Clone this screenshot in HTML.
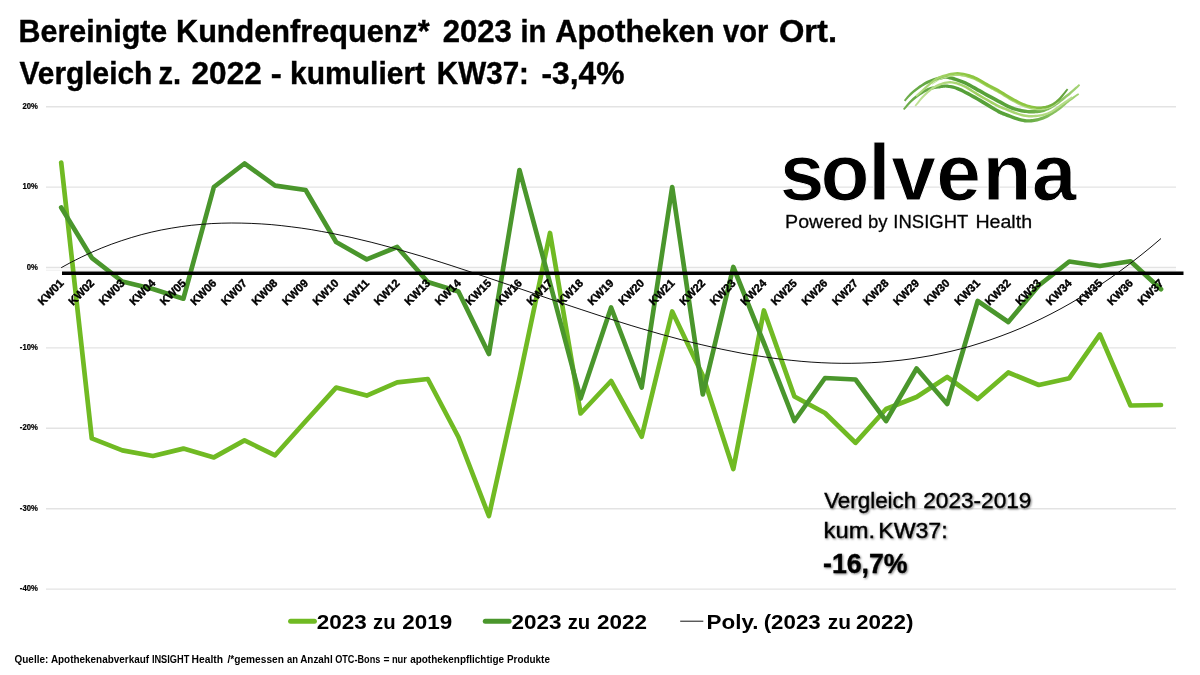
<!DOCTYPE html>
<html lang="de"><head><meta charset="utf-8"><title>Bereinigte Kundenfrequenz 2023</title>
<style>
html,body{margin:0;padding:0;background:#fff;}
body{width:1200px;height:675px;overflow:hidden;}
svg{display:block;}
text{font-family:"Liberation Sans",sans-serif;fill:#000;}
.b{font-weight:bold;}
.sh{filter:drop-shadow(1.3px 1.4px 0.9px rgba(0,0,0,.5));}
</style></head><body>
<svg width="1200" height="675" viewBox="0 0 1200 675">
<defs>
<linearGradient id="gd" x1="0" x2="1" y1="0" y2="0"><stop offset="0" stop-color="#6fae4c"/><stop offset=".3" stop-color="#559f38"/><stop offset=".65" stop-color="#5aa33a"/><stop offset="1" stop-color="#a6d476"/></linearGradient>
<linearGradient id="gl" x1="0" x2="1" y1="0" y2="0"><stop offset="0" stop-color="#b4dc86"/><stop offset=".35" stop-color="#8cc63f"/><stop offset=".75" stop-color="#8ec641"/><stop offset="1" stop-color="#5f9f3c"/></linearGradient>
<linearGradient id="gl2" x1="0" x2="1" y1="0" y2="0"><stop offset="0" stop-color="#bfe196"/><stop offset=".4" stop-color="#9fd060"/><stop offset="1" stop-color="#b9de8e"/></linearGradient>
</defs>
<rect width="1200" height="675" fill="#fff"/>

<g stroke="#e3e3e3" stroke-width="1.4">
<line x1="46" x2="1176" y1="106.7" y2="106.7"/>
<line x1="46" x2="1176" y1="187.1" y2="187.1"/>
<line x1="46" x2="1176" y1="267.5" y2="267.5"/>
<line x1="46" x2="1176" y1="347.9" y2="347.9"/>
<line x1="46" x2="1176" y1="428.3" y2="428.3"/>
<line x1="46" x2="1176" y1="508.7" y2="508.7"/>
<line x1="46" x2="1176" y1="589.1" y2="589.1"/>
<line x1="46" x2="1176" y1="270.2" y2="270.2" stroke="#eeeeee" stroke-width="1"/>
</g>
<g class="b" font-size="8.7" text-anchor="end" stroke="#000" stroke-width="0.2">
<text transform="translate(37.9,108.8) scale(0.89,1)">20%</text>
<text transform="translate(37.9,189.2) scale(0.89,1)">10%</text>
<text transform="translate(37.9,269.6) scale(0.89,1)">0%</text>
<text transform="translate(37.9,350.0) scale(0.89,1)">-10%</text>
<text transform="translate(37.9,430.4) scale(0.89,1)">-20%</text>
<text transform="translate(37.9,510.8) scale(0.89,1)">-30%</text>
<text transform="translate(37.9,591.2) scale(0.89,1)">-40%</text>
</g>
<polyline points="61.2,162.5 91.8,438.4 122.3,450.4 152.9,456.0 183.4,448.6 213.9,457.4 244.5,440.4 275.1,455.3 305.6,421.2 336.1,387.6 366.7,395.6 397.2,382.4 427.8,379.0 458.4,437.0 488.9,516.0 519.5,378.0 550.0,233.0 580.6,413.5 611.1,381.0 641.7,436.7 672.2,311.5 702.8,375.6 733.3,469.0 763.9,310.5 794.4,396.5 825.0,413.0 855.5,442.8 886.1,409.0 916.6,397.0 947.2,377.0 977.7,399.0 1008.3,372.5 1038.8,385.0 1069.3,378.2 1099.9,334.4 1130.5,405.5 1161.0,405.0" fill="none" stroke="#70ba23" stroke-width="4.7" stroke-linejoin="round" stroke-linecap="round"/>
<polyline points="61.2,207.5 91.8,257.8 122.3,281.5 152.9,289.0 183.4,298.7 213.9,187.0 244.5,163.5 275.1,185.6 305.6,190.0 336.1,242.0 366.7,259.4 397.2,247.0 427.8,282.0 458.4,291.5 488.9,354.0 519.5,170.0 550.0,283.0 580.6,398.5 611.1,307.5 641.7,387.5 672.2,187.0 702.8,394.5 733.3,267.0 763.9,343.0 794.4,421.0 825.0,378.0 855.5,379.5 886.1,421.0 916.6,368.5 947.2,404.0 977.7,301.0 1008.3,322.0 1038.8,285.5 1069.3,261.5 1099.9,266.0 1130.5,261.3 1161.0,289.2" fill="none" stroke="#4a962c" stroke-width="4.7" stroke-linejoin="round" stroke-linecap="round"/>
<polyline points="61.2,267.7 71.2,262.2 81.2,257.2 91.2,252.5 101.2,248.2 111.2,244.3 121.2,240.8 131.2,237.6 141.2,234.7 151.2,232.2 161.2,230.0 171.2,228.2 181.2,226.6 191.2,225.3 201.2,224.4 211.2,223.6 221.2,223.2 231.2,223.0 241.2,223.1 251.2,223.4 261.2,223.9 271.2,224.6 281.2,225.6 291.2,226.8 301.2,228.1 311.2,229.6 321.2,231.4 331.2,233.2 341.1,235.3 351.1,237.4 361.1,239.8 371.1,242.2 381.1,244.8 391.1,247.5 401.1,250.3 411.1,253.2 421.1,256.1 431.1,259.2 441.1,262.3 451.1,265.5 461.1,268.8 471.1,272.1 481.1,275.4 491.1,278.8 501.1,282.2 511.1,285.6 521.1,289.1 531.1,292.5 541.1,296.0 551.1,299.4 561.1,302.8 571.1,306.2 581.1,309.5 591.1,312.8 601.1,316.1 611.1,319.3 621.1,322.4 631.1,325.5 641.1,328.5 651.1,331.4 661.1,334.3 671.1,337.0 681.1,339.7 691.1,342.2 701.1,344.6 711.1,346.9 721.1,349.1 731.1,351.1 741.1,353.1 751.1,354.8 761.1,356.4 771.1,357.9 781.1,359.2 791.1,360.3 801.1,361.3 811.1,362.1 821.1,362.7 831.1,363.1 841.1,363.3 851.1,363.3 861.1,363.1 871.1,362.7 881.1,362.1 891.0,361.2 901.0,360.2 911.0,358.9 921.0,357.3 931.0,355.6 941.0,353.5 951.0,351.3 961.0,348.8 971.0,346.0 981.0,342.9 991.0,339.6 1001.0,336.0 1011.0,332.2 1021.0,328.1 1031.0,323.6 1041.0,318.9 1051.0,313.9 1061.0,308.6 1071.0,303.0 1081.0,297.1 1091.0,290.9 1101.0,284.4 1111.0,277.6 1121.0,270.4 1131.0,262.9 1141.0,255.1 1151.0,247.0 1161.0,238.5" fill="none" stroke="#111" stroke-width="1"/>
<g class="b" font-size="11.2" text-anchor="end" stroke="#000" stroke-width="0.4">
<text transform="translate(64.4,283.9) rotate(-45)">KW01</text>
<text transform="translate(95.0,283.9) rotate(-45)">KW02</text>
<text transform="translate(125.5,283.9) rotate(-45)">KW03</text>
<text transform="translate(156.1,283.9) rotate(-45)">KW04</text>
<text transform="translate(186.6,283.9) rotate(-45)">KW05</text>
<text transform="translate(217.1,283.9) rotate(-45)">KW06</text>
<text transform="translate(247.7,283.9) rotate(-45)">KW07</text>
<text transform="translate(278.2,283.9) rotate(-45)">KW08</text>
<text transform="translate(308.8,283.9) rotate(-45)">KW09</text>
<text transform="translate(339.3,283.9) rotate(-45)">KW10</text>
<text transform="translate(369.9,283.9) rotate(-45)">KW11</text>
<text transform="translate(400.4,283.9) rotate(-45)">KW12</text>
<text transform="translate(431.0,283.9) rotate(-45)">KW13</text>
<text transform="translate(461.6,283.9) rotate(-45)">KW14</text>
<text transform="translate(492.1,283.9) rotate(-45)">KW15</text>
<text transform="translate(522.7,283.9) rotate(-45)">KW16</text>
<text transform="translate(553.2,283.9) rotate(-45)">KW17</text>
<text transform="translate(583.8,283.9) rotate(-45)">KW18</text>
<text transform="translate(614.3,283.9) rotate(-45)">KW19</text>
<text transform="translate(644.9,283.9) rotate(-45)">KW20</text>
<text transform="translate(675.4,283.9) rotate(-45)">KW21</text>
<text transform="translate(706.0,283.9) rotate(-45)">KW22</text>
<text transform="translate(736.5,283.9) rotate(-45)">KW23</text>
<text transform="translate(767.1,283.9) rotate(-45)">KW24</text>
<text transform="translate(797.6,283.9) rotate(-45)">KW25</text>
<text transform="translate(828.2,283.9) rotate(-45)">KW26</text>
<text transform="translate(858.7,283.9) rotate(-45)">KW27</text>
<text transform="translate(889.3,283.9) rotate(-45)">KW28</text>
<text transform="translate(919.8,283.9) rotate(-45)">KW29</text>
<text transform="translate(950.4,283.9) rotate(-45)">KW30</text>
<text transform="translate(980.9,283.9) rotate(-45)">KW31</text>
<text transform="translate(1011.5,283.9) rotate(-45)">KW32</text>
<text transform="translate(1042.0,283.9) rotate(-45)">KW33</text>
<text transform="translate(1072.5,283.9) rotate(-45)">KW34</text>
<text transform="translate(1103.1,283.9) rotate(-45)">KW35</text>
<text transform="translate(1133.7,283.9) rotate(-45)">KW36</text>
<text transform="translate(1164.2,283.9) rotate(-45)">KW37</text>
</g>
<line x1="62" x2="1183.5" y1="273.2" y2="273.2" stroke="#000" stroke-width="3.4"/>
<text y="41.7" font-size="30.9" font-weight="bold" stroke="#000" stroke-width="0.4"><tspan x="18.5" textLength="148.8" lengthAdjust="spacingAndGlyphs">Bereinigte</tspan> <tspan x="176.0" textLength="253.7" lengthAdjust="spacingAndGlyphs">Kundenfrequenz*</tspan> <tspan x="442.7" textLength="69.2" lengthAdjust="spacingAndGlyphs">2023</tspan> <tspan x="520.4" textLength="25.8" lengthAdjust="spacingAndGlyphs">in</tspan> <tspan x="555.2" textLength="159.4" lengthAdjust="spacingAndGlyphs">Apotheken</tspan> <tspan x="723.1" textLength="45.2" lengthAdjust="spacingAndGlyphs">vor</tspan> <tspan x="778.9" textLength="58.1" lengthAdjust="spacingAndGlyphs">Ort.</tspan></text>
<text y="83.7" font-size="30.9" font-weight="bold" stroke="#000" stroke-width="0.4"><tspan x="19.5" textLength="132.8" lengthAdjust="spacingAndGlyphs">Vergleich</tspan> <tspan x="158.6" textLength="22.6" lengthAdjust="spacingAndGlyphs">z.</tspan> <tspan x="191.5" textLength="70.3" lengthAdjust="spacingAndGlyphs">2022</tspan> <tspan x="270.7" textLength="11.0" lengthAdjust="spacingAndGlyphs">-</tspan> <tspan x="290.1" textLength="135.0" lengthAdjust="spacingAndGlyphs">kumuliert</tspan> <tspan x="436.8" textLength="92.2" lengthAdjust="spacingAndGlyphs">KW37:</tspan> <tspan x="541.5" textLength="83.0" lengthAdjust="spacingAndGlyphs">-3,4%</tspan></text>
<g stroke="none">
<path d="M904.4,110.1 L905.1,109.3 L906.1,108.2 L907.2,106.9 L908.5,105.5 L909.9,104.1 L911.3,102.6 L912.7,101.2 L914.2,99.9 L915.7,98.7 L917.3,97.5 L919.0,96.2 L920.7,95.0 L922.5,93.9 L924.3,92.8 L926.0,91.9 L927.7,91.1 L929.4,90.5 L931.1,89.9 L932.9,89.5 L934.7,89.1 L936.4,88.8 L938.1,88.6 L939.7,88.4 L941.1,88.1 L942.4,88.0 L943.3,87.8 L944.2,87.7 L944.9,87.7 L945.5,87.6 L946.2,87.7 L947.1,87.8 L948.1,87.9 L949.2,88.1 L950.3,88.3 L951.5,88.5 L952.7,88.8 L954.0,89.1 L955.4,89.6 L956.9,90.2 L958.6,90.9 L960.5,91.7 L962.6,92.8 L964.8,93.9 L967.2,95.2 L969.6,96.5 L972.0,97.9 L974.4,99.2 L976.7,100.5 L979.1,101.9 L981.5,103.4 L984.0,104.9 L986.5,106.4 L989.0,107.9 L991.2,109.3 L993.3,110.5 L995.1,111.6 L996.5,112.3 L997.5,112.9 L998.2,113.4 L998.9,113.7 L999.6,114.1 L1000.3,114.4 L1001.4,114.8 L1002.7,115.4 L1004.6,116.1 L1006.7,116.9 L1009.2,117.8 L1011.7,118.7 L1014.3,119.7 L1016.9,120.5 L1019.2,121.2 L1021.3,121.8 L1023.1,122.1 L1024.7,122.4 L1026.2,122.6 L1027.6,122.6 L1028.9,122.6 L1030.2,122.5 L1031.5,122.4 L1032.9,122.2 L1034.4,122.0 L1035.9,121.7 L1037.4,121.4 L1038.9,121.0 L1040.5,120.6 L1042.1,120.0 L1043.7,119.4 L1045.3,118.7 L1047.1,117.9 L1048.9,116.9 L1050.7,115.8 L1052.5,114.7 L1054.4,113.5 L1056.1,112.4 L1057.8,111.3 L1059.3,110.2 L1060.6,109.2 L1061.9,108.2 L1063.0,107.3 L1064.1,106.3 L1065.1,105.4 L1066.1,104.5 L1067.2,103.6 L1068.3,102.7 L1069.7,101.6 L1071.2,100.5 L1072.7,99.4 L1074.3,98.2 L1075.8,97.1 L1077.2,96.1 L1078.4,95.3 L1079.2,94.6 L1078.2,93.2 L1077.3,93.7 L1076.1,94.5 L1074.7,95.4 L1073.1,96.5 L1071.5,97.6 L1069.8,98.7 L1068.3,99.7 L1066.9,100.7 L1065.6,101.7 L1064.5,102.6 L1063.4,103.5 L1062.4,104.4 L1061.3,105.3 L1060.2,106.2 L1059.0,107.1 L1057.7,108.0 L1056.2,109.0 L1054.6,110.0 L1052.8,111.1 L1051.0,112.2 L1049.2,113.3 L1047.4,114.3 L1045.7,115.1 L1044.1,115.9 L1042.5,116.5 L1041.0,117.1 L1039.6,117.6 L1038.1,118.0 L1036.7,118.3 L1035.3,118.6 L1033.9,118.8 L1032.5,119.0 L1031.2,119.1 L1029.9,119.2 L1028.8,119.3 L1027.6,119.3 L1026.5,119.2 L1025.2,119.1 L1023.7,118.8 L1022.1,118.4 L1020.2,117.9 L1017.9,117.2 L1015.5,116.4 L1012.9,115.5 L1010.4,114.5 L1008.0,113.6 L1005.9,112.8 L1004.1,112.0 L1002.7,111.5 L1001.7,111.1 L1001.1,110.8 L1000.5,110.6 L1000.0,110.2 L999.3,109.8 L998.3,109.2 L996.9,108.4 L995.1,107.4 L993.1,106.2 L990.8,104.8 L988.4,103.3 L985.9,101.8 L983.4,100.3 L980.9,98.8 L978.5,97.5 L976.1,96.1 L973.7,94.8 L971.3,93.4 L968.8,92.1 L966.4,90.9 L964.1,89.7 L962.0,88.6 L960.0,87.7 L958.2,87.0 L956.5,86.4 L955.0,85.9 L953.5,85.6 L952.2,85.3 L950.9,85.0 L949.7,84.9 L948.5,84.7 L947.4,84.6 L946.5,84.5 L945.6,84.4 L944.7,84.5 L943.8,84.5 L942.9,84.7 L941.9,84.8 L940.7,85.1 L939.2,85.3 L937.7,85.5 L935.9,85.8 L934.1,86.2 L932.2,86.6 L930.3,87.1 L928.4,87.7 L926.5,88.5 L924.7,89.4 L922.9,90.5 L921.0,91.6 L919.2,92.8 L917.5,94.1 L915.8,95.5 L914.1,96.8 L912.6,98.1 L911.1,99.5 L909.6,101.0 L908.2,102.6 L906.9,104.1 L905.7,105.6 L904.6,106.9 L903.7,108.1 L903.0,108.9Z" fill="url(#gd)"/>
<path d="M915.9,106.5 L916.7,105.6 L917.7,104.4 L919.0,102.9 L920.3,101.3 L921.8,99.6 L923.2,98.0 L924.7,96.5 L926.0,95.2 L927.3,94.0 L928.6,92.8 L929.9,91.7 L931.3,90.6 L932.6,89.6 L933.9,88.7 L935.3,87.9 L936.8,87.1 L938.4,86.4 L940.0,85.7 L941.7,85.1 L943.4,84.6 L945.1,84.1 L946.8,83.8 L948.5,83.6 L950.1,83.5 L951.7,83.6 L953.3,83.8 L955.0,84.2 L956.6,84.6 L958.3,85.2 L960.0,85.8 L961.7,86.5 L963.4,87.2 L965.0,88.0 L966.6,88.9 L968.2,89.9 L969.8,90.9 L971.4,92.0 L973.1,93.1 L975.0,94.3 L976.9,95.5 L979.1,96.8 L981.5,98.2 L984.0,99.6 L986.5,101.1 L989.1,102.5 L991.4,103.9 L993.6,105.1 L995.4,106.0 L996.8,106.8 L997.8,107.3 L998.5,107.7 L999.2,108.0 L999.8,108.2 L1000.6,108.5 L1001.6,108.9 L1002.9,109.4 L1004.7,110.1 L1006.8,111.0 L1009.2,111.9 L1011.7,112.9 L1014.2,113.9 L1016.8,114.8 L1019.2,115.6 L1021.4,116.2 L1023.4,116.7 L1025.3,117.0 L1027.1,117.2 L1028.8,117.4 L1030.5,117.4 L1032.2,117.4 L1033.9,117.3 L1035.6,117.2 L1037.4,117.0 L1039.1,116.8 L1040.9,116.5 L1042.7,116.2 L1044.4,115.7 L1046.2,115.2 L1048.0,114.6 L1049.8,113.8 L1051.6,112.9 L1053.4,111.8 L1055.3,110.6 L1057.1,109.3 L1058.8,108.0 L1060.5,106.7 L1062.1,105.5 L1063.6,104.4 L1065.0,103.4 L1066.4,102.5 L1067.8,101.5 L1069.0,100.6 L1070.2,99.7 L1071.2,99.0 L1072.1,98.3 L1072.7,97.8 L1071.7,96.4 L1071.0,96.8 L1070.1,97.4 L1069.1,98.2 L1067.9,99.0 L1066.6,99.9 L1065.3,100.8 L1063.8,101.8 L1062.4,102.8 L1060.9,103.8 L1059.3,105.0 L1057.6,106.3 L1055.8,107.5 L1054.0,108.8 L1052.2,109.9 L1050.5,110.9 L1048.8,111.8 L1047.2,112.4 L1045.5,113.0 L1043.8,113.5 L1042.2,113.9 L1040.5,114.2 L1038.8,114.5 L1037.1,114.7 L1035.4,114.8 L1033.7,114.9 L1032.1,115.0 L1030.5,115.0 L1029.0,114.9 L1027.3,114.8 L1025.7,114.5 L1023.9,114.2 L1022.0,113.8 L1019.9,113.2 L1017.6,112.4 L1015.1,111.5 L1012.6,110.6 L1010.1,109.6 L1007.8,108.6 L1005.7,107.7 L1003.9,107.0 L1002.5,106.5 L1001.5,106.1 L1000.8,105.8 L1000.2,105.6 L999.7,105.3 L999.0,105.0 L998.0,104.5 L996.6,103.8 L994.8,102.8 L992.7,101.6 L990.3,100.3 L987.8,98.8 L985.3,97.4 L982.8,95.9 L980.4,94.5 L978.3,93.3 L976.3,92.1 L974.5,91.0 L972.8,89.9 L971.2,88.8 L969.5,87.7 L967.9,86.7 L966.2,85.8 L964.4,85.0 L962.7,84.2 L960.9,83.5 L959.1,82.8 L957.4,82.3 L955.6,81.8 L953.8,81.4 L951.9,81.2 L950.1,81.1 L948.3,81.2 L946.4,81.4 L944.5,81.8 L942.7,82.3 L940.9,82.9 L939.1,83.6 L937.4,84.3 L935.8,85.1 L934.2,85.9 L932.7,86.8 L931.3,87.8 L929.9,88.9 L928.5,90.0 L927.2,91.2 L925.9,92.4 L924.6,93.6 L923.2,95.0 L921.7,96.6 L920.2,98.3 L918.8,100.0 L917.5,101.7 L916.3,103.2 L915.3,104.4 L914.5,105.3Z" fill="url(#gl2)"/>
<path d="M905.3,101.4 L906.0,100.7 L906.8,99.8 L907.8,98.7 L908.9,97.5 L910.2,96.2 L911.5,94.9 L912.8,93.7 L914.2,92.5 L915.6,91.4 L917.2,90.2 L918.9,89.0 L920.7,87.8 L922.5,86.6 L924.3,85.6 L926.0,84.6 L927.7,83.7 L929.4,82.9 L931.2,82.2 L933.0,81.6 L934.8,81.1 L936.6,80.6 L938.3,80.1 L939.9,79.8 L941.3,79.4 L942.5,79.2 L943.4,78.9 L944.1,78.8 L944.7,78.7 L945.2,78.6 L945.9,78.7 L946.8,78.8 L948.0,79.0 L949.5,79.4 L951.2,79.8 L953.1,80.4 L955.2,81.0 L957.3,81.7 L959.3,82.5 L961.3,83.3 L963.2,84.0 L964.9,84.8 L966.5,85.6 L968.1,86.5 L969.7,87.3 L971.3,88.3 L973.0,89.3 L974.8,90.3 L976.7,91.4 L978.8,92.6 L981.0,93.8 L983.3,95.1 L985.7,96.4 L988.1,97.7 L990.5,99.1 L992.9,100.3 L995.1,101.5 L997.3,102.7 L999.4,103.8 L1001.6,105.0 L1003.7,106.1 L1005.8,107.2 L1007.8,108.2 L1009.9,109.1 L1011.9,109.9 L1013.8,110.6 L1015.7,111.1 L1017.6,111.6 L1019.4,112.0 L1021.2,112.4 L1022.9,112.7 L1024.5,112.9 L1026.1,113.1 L1027.6,113.3 L1029.0,113.4 L1030.4,113.5 L1031.7,113.5 L1032.9,113.5 L1034.2,113.4 L1035.4,113.3 L1036.5,113.3 L1037.7,113.2 L1038.8,113.0 L1039.8,112.9 L1040.9,112.7 L1042.0,112.5 L1043.0,112.2 L1044.1,111.9 L1045.2,111.5 L1046.3,111.1 L1047.4,110.6 L1048.5,110.2 L1049.6,109.6 L1050.8,109.0 L1052.0,108.3 L1053.3,107.5 L1054.7,106.6 L1056.2,105.6 L1057.9,104.5 L1059.6,103.2 L1061.4,101.8 L1063.2,100.4 L1065.0,99.0 L1066.7,97.6 L1068.4,96.3 L1070.1,94.9 L1071.8,93.3 L1073.5,91.8 L1075.2,90.2 L1076.8,88.7 L1078.2,87.4 L1079.3,86.2 L1080.2,85.4 L1079.0,84.0 L1078.0,84.8 L1076.8,85.9 L1075.3,87.1 L1073.7,88.6 L1072.0,90.0 L1070.2,91.5 L1068.5,93.0 L1066.8,94.3 L1065.1,95.6 L1063.4,96.9 L1061.6,98.3 L1059.8,99.6 L1058.0,100.9 L1056.2,102.1 L1054.6,103.2 L1053.1,104.2 L1051.7,105.0 L1050.5,105.7 L1049.4,106.3 L1048.3,106.8 L1047.2,107.3 L1046.2,107.7 L1045.2,108.1 L1044.2,108.5 L1043.2,108.8 L1042.2,109.1 L1041.2,109.3 L1040.3,109.5 L1039.4,109.6 L1038.4,109.8 L1037.4,109.9 L1036.3,109.9 L1035.1,110.0 L1034.0,110.1 L1032.9,110.1 L1031.7,110.1 L1030.5,110.1 L1029.3,110.0 L1027.9,109.9 L1026.5,109.7 L1025.0,109.5 L1023.5,109.2 L1021.8,108.9 L1020.2,108.6 L1018.5,108.2 L1016.7,107.7 L1014.9,107.2 L1013.1,106.5 L1011.3,105.8 L1009.4,104.9 L1007.4,103.9 L1005.4,102.9 L1003.3,101.7 L1001.2,100.6 L999.0,99.4 L996.9,98.3 L994.6,97.1 L992.3,95.8 L989.9,94.5 L987.5,93.2 L985.1,91.9 L982.8,90.6 L980.6,89.3 L978.5,88.2 L976.6,87.1 L974.8,86.1 L973.1,85.2 L971.5,84.2 L969.8,83.3 L968.2,82.4 L966.4,81.6 L964.6,80.8 L962.6,80.0 L960.5,79.2 L958.4,78.5 L956.2,77.8 L954.1,77.1 L952.1,76.6 L950.3,76.1 L948.6,75.8 L947.3,75.5 L946.2,75.4 L945.2,75.4 L944.3,75.4 L943.5,75.6 L942.6,75.8 L941.7,76.1 L940.5,76.4 L939.1,76.7 L937.5,77.1 L935.8,77.6 L934.0,78.1 L932.1,78.8 L930.2,79.5 L928.3,80.2 L926.5,81.1 L924.7,82.1 L922.8,83.2 L921.0,84.4 L919.2,85.6 L917.4,86.9 L915.7,88.2 L914.1,89.4 L912.6,90.7 L911.2,91.9 L909.8,93.3 L908.5,94.7 L907.3,96.1 L906.3,97.3 L905.3,98.5 L904.5,99.5 L903.9,100.2Z" fill="url(#gd)"/>
<path d="M932.2,84.6 L932.9,84.2 L933.7,83.6 L934.7,82.9 L935.8,82.2 L937.1,81.4 L938.4,80.6 L939.9,79.9 L941.4,79.3 L943.1,78.8 L945.0,78.2 L947.1,77.7 L949.2,77.1 L951.4,76.7 L953.6,76.3 L955.7,76.1 L957.7,76.0 L959.7,76.1 L961.6,76.4 L963.6,76.7 L965.5,77.1 L967.5,77.7 L969.4,78.3 L971.3,78.9 L973.1,79.6 L974.9,80.3 L976.6,81.2 L978.3,82.1 L980.0,83.1 L981.7,84.1 L983.4,85.1 L985.0,86.1 L986.7,87.0 L988.3,87.8 L989.8,88.6 L991.2,89.4 L992.7,90.1 L994.1,90.9 L995.6,91.7 L997.1,92.5 L998.7,93.4 L1000.3,94.3 L1001.9,95.3 L1003.6,96.4 L1005.4,97.5 L1007.1,98.6 L1008.9,99.7 L1010.6,100.7 L1012.4,101.7 L1014.1,102.6 L1015.9,103.5 L1017.7,104.4 L1019.4,105.2 L1021.2,106.0 L1023.0,106.8 L1024.7,107.5 L1026.3,108.0 L1028.0,108.6 L1029.5,109.0 L1031.1,109.4 L1032.6,109.7 L1034.1,109.9 L1035.6,110.1 L1037.1,110.2 L1038.6,110.3 L1040.1,110.3 L1041.5,110.2 L1043.0,110.1 L1044.4,109.9 L1045.8,109.6 L1047.2,109.2 L1048.5,108.8 L1049.8,108.3 L1051.2,107.7 L1052.5,106.9 L1053.9,106.0 L1055.2,105.1 L1056.4,104.2 L1057.5,103.3 L1058.4,102.6 L1059.0,102.1 L1058.6,101.5 L1057.8,101.9 L1056.9,102.6 L1055.8,103.4 L1054.6,104.3 L1053.3,105.2 L1052.0,106.0 L1050.6,106.7 L1049.4,107.3 L1048.1,107.7 L1046.8,108.0 L1045.5,108.3 L1044.2,108.6 L1042.8,108.8 L1041.4,108.9 L1040.0,108.9 L1038.6,108.9 L1037.2,108.8 L1035.8,108.7 L1034.4,108.5 L1032.9,108.2 L1031.4,107.9 L1030.0,107.5 L1028.4,107.1 L1026.9,106.6 L1025.2,106.0 L1023.6,105.3 L1021.9,104.5 L1020.2,103.7 L1018.4,102.9 L1016.7,102.0 L1014.9,101.1 L1013.2,100.1 L1011.5,99.2 L1009.8,98.2 L1008.0,97.1 L1006.3,96.0 L1004.6,94.9 L1002.9,93.8 L1001.2,92.8 L999.5,91.8 L998.0,90.9 L996.4,90.1 L995.0,89.3 L993.5,88.5 L992.1,87.8 L990.6,87.0 L989.1,86.2 L987.5,85.4 L985.9,84.5 L984.3,83.6 L982.6,82.6 L980.9,81.6 L979.2,80.6 L977.4,79.6 L975.6,78.8 L973.7,78.0 L971.8,77.3 L969.9,76.7 L967.9,76.1 L965.9,75.6 L963.9,75.2 L961.8,74.8 L959.8,74.6 L957.7,74.6 L955.6,74.7 L953.4,74.9 L951.1,75.3 L948.9,75.8 L946.7,76.4 L944.7,77.0 L942.7,77.6 L941.0,78.3 L939.4,78.9 L937.9,79.7 L936.5,80.5 L935.3,81.4 L934.2,82.2 L933.2,82.9 L932.4,83.5 L931.8,84.0Z" fill="url(#gl2)"/>
<path d="M916.7,96.9 L918.0,95.8 L919.7,94.2 L921.8,92.4 L924.0,90.4 L926.4,88.4 L928.6,86.4 L930.7,84.7 L932.4,83.3 L933.8,82.2 L935.0,81.3 L936.0,80.6 L936.9,80.0 L937.8,79.5 L938.7,79.0 L939.9,78.6 L941.3,78.1 L943.0,77.5 L944.9,76.9 L946.9,76.4 L949.0,75.8 L951.2,75.4 L953.3,75.0 L955.4,74.8 L957.4,74.7 L959.3,74.8 L961.2,75.0 L963.2,75.3 L965.1,75.8 L967.0,76.3 L968.9,76.9 L970.8,77.5 L972.6,78.2 L974.4,78.9 L976.1,79.7 L977.8,80.6 L979.5,81.6 L981.2,82.6 L982.8,83.6 L984.5,84.6 L986.1,85.5 L987.7,86.4 L989.2,87.2 L990.7,87.9 L992.2,88.7 L993.6,89.4 L995.1,90.2 L996.6,91.0 L998.1,91.9 L999.7,92.9 L1001.4,93.9 L1003.1,94.9 L1004.8,96.0 L1006.6,97.1 L1008.3,98.2 L1010.1,99.2 L1011.8,100.2 L1013.6,101.1 L1015.4,102.0 L1017.1,102.9 L1018.9,103.8 L1020.7,104.6 L1022.5,105.4 L1024.2,106.0 L1025.9,106.6 L1027.5,107.2 L1029.1,107.6 L1030.7,108.0 L1032.2,108.3 L1033.8,108.6 L1035.3,108.8 L1036.8,108.9 L1038.3,109.0 L1039.8,108.9 L1041.2,108.9 L1042.7,108.7 L1044.2,108.5 L1045.6,108.2 L1047.0,107.9 L1048.4,107.5 L1049.7,107.0 L1051.0,106.5 L1052.3,105.8 L1053.5,105.2 L1054.6,104.4 L1055.8,103.6 L1056.9,102.7 L1058.1,101.7 L1059.2,100.7 L1060.5,99.4 L1061.8,98.0 L1063.1,96.4 L1064.4,94.8 L1065.6,93.2 L1066.7,91.7 L1067.6,90.5 L1068.3,89.7 L1066.9,88.5 L1066.2,89.4 L1065.2,90.6 L1064.1,92.0 L1062.8,93.5 L1061.5,95.1 L1060.2,96.6 L1058.9,98.0 L1057.8,99.1 L1056.6,100.1 L1055.6,101.0 L1054.5,101.8 L1053.4,102.5 L1052.3,103.2 L1051.2,103.8 L1050.1,104.3 L1048.9,104.8 L1047.7,105.2 L1046.4,105.6 L1045.1,105.9 L1043.8,106.1 L1042.4,106.3 L1041.1,106.4 L1039.7,106.5 L1038.3,106.4 L1036.9,106.4 L1035.6,106.2 L1034.1,106.1 L1032.7,105.8 L1031.3,105.5 L1029.8,105.1 L1028.3,104.7 L1026.7,104.2 L1025.1,103.6 L1023.5,102.9 L1021.8,102.2 L1020.1,101.4 L1018.3,100.5 L1016.6,99.6 L1014.9,98.7 L1013.2,97.8 L1011.5,96.8 L1009.7,95.8 L1008.0,94.8 L1006.3,93.7 L1004.5,92.6 L1002.8,91.5 L1001.1,90.5 L999.5,89.5 L997.9,88.6 L996.4,87.8 L994.9,87.0 L993.4,86.2 L992.0,85.4 L990.5,84.7 L989.0,83.9 L987.5,83.1 L985.9,82.2 L984.3,81.2 L982.6,80.2 L980.9,79.2 L979.1,78.2 L977.3,77.3 L975.5,76.4 L973.6,75.6 L971.7,74.9 L969.8,74.3 L967.8,73.7 L965.7,73.2 L963.7,72.7 L961.6,72.4 L959.5,72.2 L957.4,72.1 L955.2,72.2 L953.0,72.5 L950.7,72.8 L948.5,73.3 L946.3,73.9 L944.2,74.5 L942.2,75.1 L940.5,75.7 L939.0,76.3 L937.7,76.8 L936.6,77.4 L935.6,78.0 L934.6,78.7 L933.6,79.5 L932.4,80.4 L931.0,81.5 L929.2,83.0 L927.2,84.8 L924.9,86.8 L922.6,88.9 L920.4,90.9 L918.4,92.8 L916.7,94.4 L915.5,95.5Z" fill="url(#gl)"/>
</g>
<text x="779.7 820.5 868.3 891.3 936.2 982.6 1031.8" y="200.0" font-size="80.3" font-weight="bold" fill="#0b0b0b" stroke="#fff" stroke-width="1">solvena</text>
<text y="227.7" font-size="17.5" fill="#1a1a1a" stroke="#1a1a1a" stroke-width="0.3"><tspan x="785.1" textLength="77.4" lengthAdjust="spacingAndGlyphs">Powered</tspan> <tspan x="867.9" textLength="19.6" lengthAdjust="spacingAndGlyphs">by</tspan> <tspan x="893.3" textLength="74.7" lengthAdjust="spacingAndGlyphs">INSIGHT</tspan> <tspan x="975.4" textLength="56.7" lengthAdjust="spacingAndGlyphs">Health</tspan></text>
<g class="sh" stroke="#000" stroke-width="0.35">
<text y="508.2" font-size="21.2"><tspan x="824.2" textLength="92.0" lengthAdjust="spacingAndGlyphs">Vergleich</tspan> <tspan x="923.3" textLength="108.1" lengthAdjust="spacingAndGlyphs">2023-2019</tspan></text>
<text y="538.2" font-size="21.2"><tspan x="823.6" textLength="51.4" lengthAdjust="spacingAndGlyphs">kum.</tspan> <tspan x="878.2" textLength="69.5" lengthAdjust="spacingAndGlyphs">KW37:</tspan></text>
<text y="572.5" font-size="27" font-weight="bold"><tspan x="823.0" textLength="84.5" lengthAdjust="spacingAndGlyphs">-16,7%</tspan></text>
</g>
<line x1="290.6" x2="314.4" y1="621.2" y2="621.2" stroke="#70ba23" stroke-width="5" stroke-linecap="round"/>
<line x1="485.3" x2="509.1" y1="621.2" y2="621.2" stroke="#4a962c" stroke-width="5" stroke-linecap="round"/>
<line x1="680.2" x2="703.3" y1="621.2" y2="621.2" stroke="#111" stroke-width="1"/>
<text y="628.5" font-size="21" font-weight="bold"><tspan x="316.7" textLength="50.0" lengthAdjust="spacingAndGlyphs">2023</tspan> <tspan x="373.0" textLength="22.6" lengthAdjust="spacingAndGlyphs">zu</tspan> <tspan x="402.3" textLength="49.9" lengthAdjust="spacingAndGlyphs">2019</tspan></text>
<text y="628.5" font-size="21" font-weight="bold"><tspan x="511.4" textLength="50.0" lengthAdjust="spacingAndGlyphs">2023</tspan> <tspan x="567.7" textLength="22.6" lengthAdjust="spacingAndGlyphs">zu</tspan> <tspan x="596.9" textLength="50.0" lengthAdjust="spacingAndGlyphs">2022</tspan></text>
<text y="628.5" font-size="21" font-weight="bold"><tspan x="706.6" textLength="52.0" lengthAdjust="spacingAndGlyphs">Poly.</tspan> <tspan x="763.7" textLength="57.0" lengthAdjust="spacingAndGlyphs">(2023</tspan> <tspan x="827.8" textLength="23.2" lengthAdjust="spacingAndGlyphs">zu</tspan> <tspan x="856.0" textLength="57.4" lengthAdjust="spacingAndGlyphs">2022)</tspan></text>
<text y="662.9" font-size="10.2" font-weight="bold"><tspan x="14.5" textLength="33.8" lengthAdjust="spacingAndGlyphs">Quelle:</tspan> <tspan x="50.9" textLength="98.2" lengthAdjust="spacingAndGlyphs">Apothekenabverkauf</tspan> <tspan x="151.9" textLength="37.4" lengthAdjust="spacingAndGlyphs">INSIGHT</tspan> <tspan x="191.5" textLength="31.5" lengthAdjust="spacingAndGlyphs">Health</tspan> <tspan x="227.5" textLength="56.4" lengthAdjust="spacingAndGlyphs">/*gemessen</tspan> <tspan x="286.9" textLength="11.0" lengthAdjust="spacingAndGlyphs">an</tspan> <tspan x="300.2" textLength="32.5" lengthAdjust="spacingAndGlyphs">Anzahl</tspan> <tspan x="335.2" textLength="45.1" lengthAdjust="spacingAndGlyphs">OTC-Bons</tspan> <tspan x="383.6" textLength="6.0" lengthAdjust="spacingAndGlyphs">=</tspan> <tspan x="391.9" textLength="15.0" lengthAdjust="spacingAndGlyphs">nur</tspan> <tspan x="410.2" textLength="93.9" lengthAdjust="spacingAndGlyphs">apothekenpflichtige</tspan> <tspan x="507.0" textLength="42.9" lengthAdjust="spacingAndGlyphs">Produkte</tspan></text>
</svg></body></html>
